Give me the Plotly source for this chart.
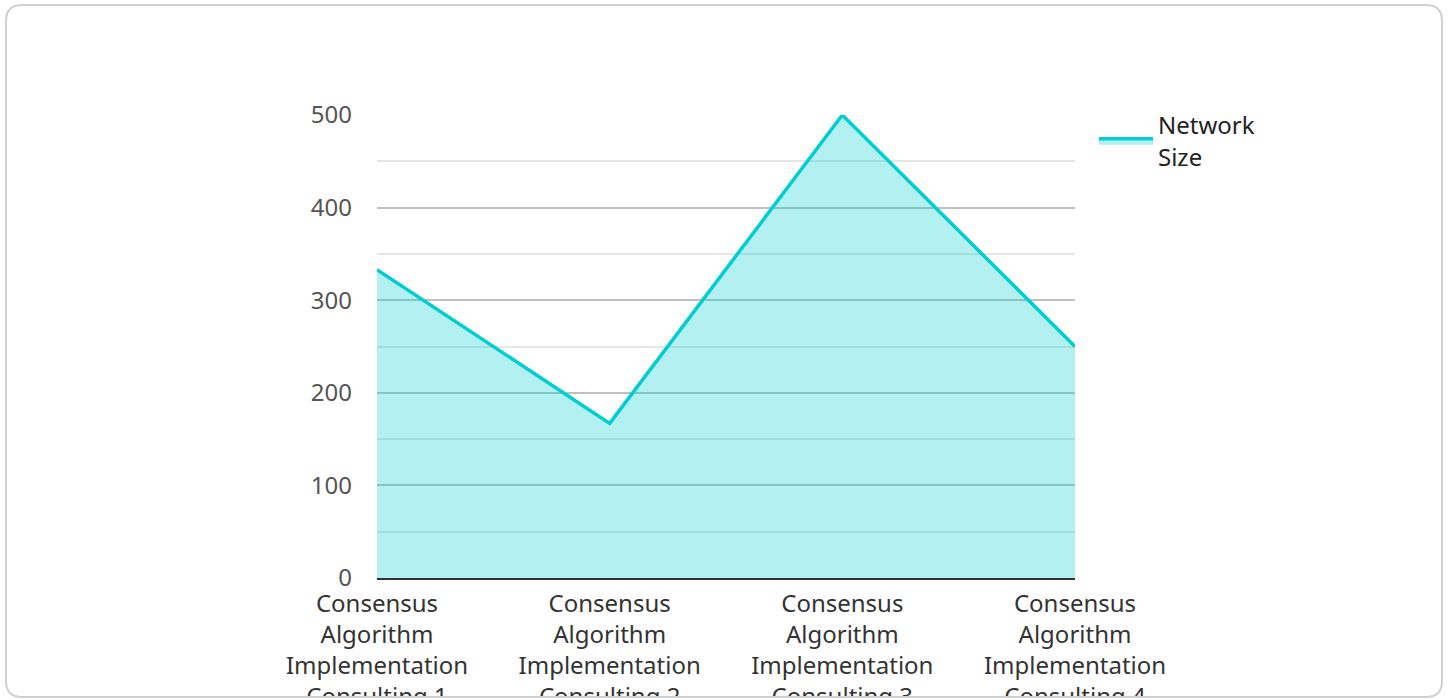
import plotly.graph_objects as go

categories = [
    "Consensus<br>Algorithm<br>Implementation<br>Consulting 1",
    "Consensus<br>Algorithm<br>Implementation<br>Consulting 2",
    "Consensus<br>Algorithm<br>Implementation<br>Consulting 3",
    "Consensus<br>Algorithm<br>Implementation<br>Consulting 4",
]
network_size = [333, 167, 500, 250]
series_name = "Network<br>Size"

W, H = 1449, 700
L, R, T, B = 377, 1075, 115, 578

fig = go.Figure()
fig.add_trace(go.Scatter(
    x=categories, y=network_size, name=series_name, mode="lines",
    line=dict(color="#00CED1", width=3.5), fill="tozeroy",
    fillcolor="rgba(0,206,209,0.3)", showlegend=True,
))


def px(x):
    return (x - L) / (R - L)


def py(y):
    return (B - y) / (B - T)


x0, x1, y0, y1, r = 6, 1442, 5, 697, 16
path = (f"M {px(x0 + r)} {py(y0)} L {px(x1 - r)} {py(y0)} "
        f"Q {px(x1)} {py(y0)} {px(x1)} {py(y0 + r)} "
        f"L {px(x1)} {py(y1 - r)} Q {px(x1)} {py(y1)} {px(x1 - r)} {py(y1)} "
        f"L {px(x0 + r)} {py(y1)} Q {px(x0)} {py(y1)} {px(x0)} {py(y1 - r)} "
        f"L {px(x0)} {py(y0 + r)} Q {px(x0)} {py(y0)} {px(x0 + r)} {py(y0)} Z")

fig.update_layout(
    width=W, height=H,
    margin=dict(l=L, r=W - R, t=T, b=H - B, autoexpand=False),
    paper_bgcolor="white", plot_bgcolor="white",
    font=dict(family="Noto Sans", size=24, color="#333"),
    showlegend=True,
    legend=dict(x=px(1094), y=py(103), xanchor="left", yanchor="top",
                itemwidth=54,
                font=dict(size=24, color="#222"), bgcolor="rgba(0,0,0,0)"),
    shapes=[
        dict(type="rect", xref="paper", yref="paper", x0=px(0), x1=px(W),
             y0=py(y1 + 1), y1=py(H + 40), fillcolor="white", line=dict(width=0),
             layer="above"),
        dict(type="path", xref="paper", yref="paper", path=path,
             line=dict(color="#d0d0d0", width=2), layer="above"),
    ],
)
fig.update_xaxes(
    range=[0, 3], showgrid=False, showline=True, linecolor="#333", linewidth=2,
    ticks="", tickfont=dict(size=24, color="#333"), zeroline=False,
    ticklabelstandoff=3, automargin=False,
)
fig.update_yaxes(
    range=[0, 500], dtick=100, showgrid=True, gridcolor="#c0c0c0", gridwidth=1.5,
    minor=dict(dtick=50, showgrid=True, gridcolor="#e6e6e6", gridwidth=1.5),
    showline=False, zeroline=False, ticks="", ticklabelstandoff=24,
    tickfont=dict(size=24, color="#555"), automargin=False,
)

fig.write_html("out.html", config={"displayModeBar": False},
               post_script="document.body.style.margin='0';")
